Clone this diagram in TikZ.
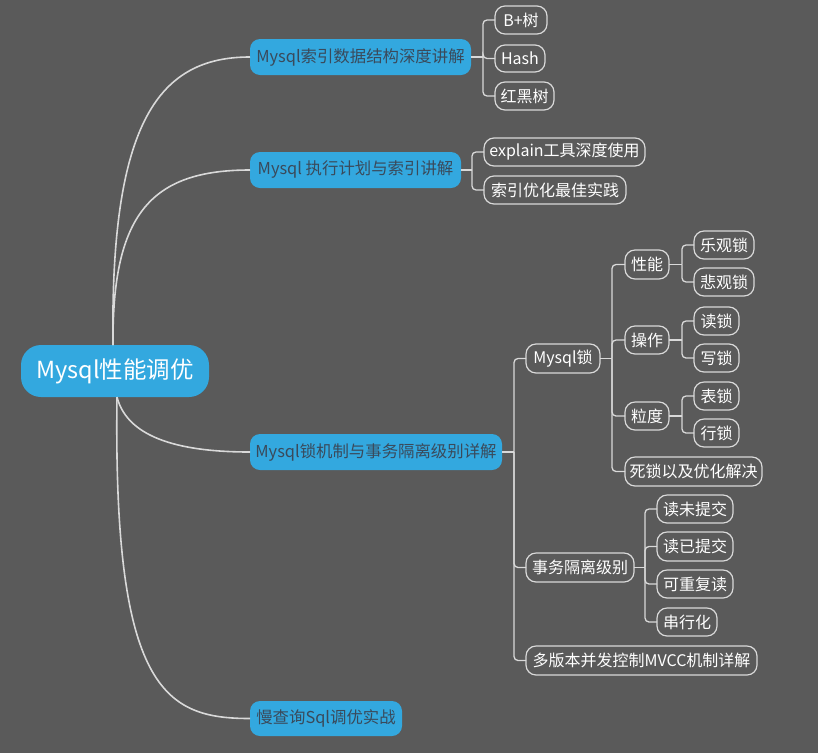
\documentclass[tikz,border=0pt]{standalone}
\usepackage{fontspec}
\usetikzlibrary{calc}
\setmainfont{Noto Sans CJK SC}
\begin{document}
\begin{tikzpicture}[x=1pt,y=-1pt,
  every node/.style={inner sep=0pt, outer sep=0pt},
  rootbox/.style={fill=mblue, rounded corners=20pt, minimum height=52pt, text=white, font=\fontsize{23.5}{27}\selectfont},
  branchbox/.style={fill=mblue, rounded corners=10pt, minimum height=36pt, text=btext, font=\fontsize{16.4}{19}\selectfont},
  leafbox/.style={draw=lline, line width=1.2pt, rounded corners=10pt, minimum height=28pt, text=white, font=\fontsize{16}{18}\selectfont},
  curve/.style={draw=lline, line width=1.6pt},
  elbow/.style={draw=lline, line width=1.3pt, rounded corners=4pt},
  stem/.style={draw=lline, line width=1.3pt}
]
\definecolor{bg}{HTML}{5A5A5A}
\definecolor{mblue}{HTML}{33A8DF}
\definecolor{btext}{HTML}{3A4A5B}
\definecolor{lline}{HTML}{D9D9D9}
\fill[bg] (0,0) rectangle (818,753);
\useasboundingbox (0,0) rectangle (818,753);

% root and branches
\node[rootbox, minimum width=188pt] (root) at (115,371) {Mysql性能调优};
\node[branchbox, minimum width=221pt] (b1) at (360.5,57) {Mysql索引数据结构深度讲解};
\node[branchbox, minimum width=211pt] (b2) at (355.5,170) {Mysql 执行计划与索引讲解};
\node[branchbox, minimum width=252pt] (b3) at (376,452) {Mysql锁机制与事务隔离级别详解};
\node[branchbox, minimum width=152pt, minimum height=35pt] (b4) at (326,718.5) {慢查询Sql调优实战};

\coordinate (rt) at ($(root.north)+(-2,0)$);
\coordinate (rb) at ($(root.south)+(2,0)$);
\path[curve] (rt) .. controls (110,120) and (160,57) .. (b1.west);
\path[curve] (rt) .. controls (112,215) and (150,170) .. (b2.west);
\path[curve] (rb) .. controls (128,440) and (185,452) .. (b3.west);
\path[curve] (rb) .. controls (113,690) and (165,718.5) .. (b4.west);

% B1 leaves
\node[leafbox, minimum width=52pt] (l11) at (521,20) {B+树};
\node[leafbox, minimum width=50pt, minimum height=27pt] (l12) at (520,58.5) {Hash};
\node[leafbox, minimum width=59pt] (l13) at (524.5,96) {红黑树};
\coordinate (j1) at (483,57);
\path[stem] (b1.east) -- (j1);
\foreach \c in {l11,l12,l13} \path[elbow] (j1) |- (\c.west);

% B2 leaves
\node[leafbox, minimum width=161pt] (l21) at (564.5,152) {explain工具深度使用};
\node[leafbox, minimum width=142pt] (l22) at (555,190) {索引优化最佳实践};
\coordinate (j2) at (472,170);
\path[stem] (b2.east) -- (j2);
\foreach \c in {l21,l22} \path[elbow] (j2) |- (\c.west);

% B3 children
\node[leafbox, minimum width=74pt, minimum height=29pt] (lk) at (563,358.5) {Mysql锁};
\node[leafbox, minimum width=108pt, minimum height=29pt] (tx) at (580,567.5) {事务隔离级别};
\node[leafbox, minimum width=231pt, minimum height=29pt] (mv) at (641.5,660.5) {多版本并发控制MVCC机制详解};
\coordinate (j3) at (514,452);
\path[stem] (b3.east) -- (j3);
\foreach \c in {lk,tx,mv} \path[elbow] (j3) |- (\c.west);

% Mysql锁 children
\node[leafbox, minimum width=44pt, minimum height=29pt] (xn) at (647,264.5) {性能};
\node[leafbox, minimum width=44pt] (cz) at (647,340) {操作};
\node[leafbox, minimum width=44pt] (ld) at (647,416) {粒度};
\node[leafbox, minimum width=137pt, minimum height=29pt] (sl) at (693.5,471.5) {死锁以及优化解决};
\coordinate (j4) at (612,358.5);
\path[stem] (lk.east) -- (j4);
\foreach \c in {xn,cz,ld,sl} \path[elbow] (j4) |- (\c.west);

% 性能
\node[leafbox, minimum width=60pt] (lg) at (724,245) {乐观锁};
\node[leafbox, minimum width=60pt] (bg2) at (724,282) {悲观锁};
\coordinate (j5) at (682,264.5);
\path[stem] (xn.east) -- (j5);
\foreach \c in {lg,bg2} \path[elbow] (j5) |- (\c.west);

% 操作
\node[leafbox, minimum width=45pt] (ds) at (716.5,321) {读锁};
\node[leafbox, minimum width=45pt] (xs) at (716.5,358) {写锁};
\coordinate (j6) at (682,340);
\path[stem] (cz.east) -- (j6);
\foreach \c in {ds,xs} \path[elbow] (j6) |- (\c.west);

% 粒度
\node[leafbox, minimum width=45pt] (bs) at (716.5,396) {表锁};
\node[leafbox, minimum width=45pt] (hs) at (716.5,433) {行锁};
\coordinate (j7) at (682,416);
\path[stem] (ld.east) -- (j7);
\foreach \c in {bs,hs} \path[elbow] (j7) |- (\c.west);

% 事务隔离级别
\node[leafbox, minimum width=76pt] (t1) at (695,509) {读未提交};
\node[leafbox, minimum width=76pt, minimum height=29pt] (t2) at (695,546.5) {读已提交};
\node[leafbox, minimum width=76pt] (t3) at (695,584) {可重复读};
\node[leafbox, minimum width=60pt] (t4) at (687,622) {串行化};
\coordinate (j8) at (645,567.5);
\path[stem] (tx.east) -- (j8);
\foreach \c in {t1,t2,t3,t4} \path[elbow] (j8) |- (\c.west);
\end{tikzpicture}
\end{document}
